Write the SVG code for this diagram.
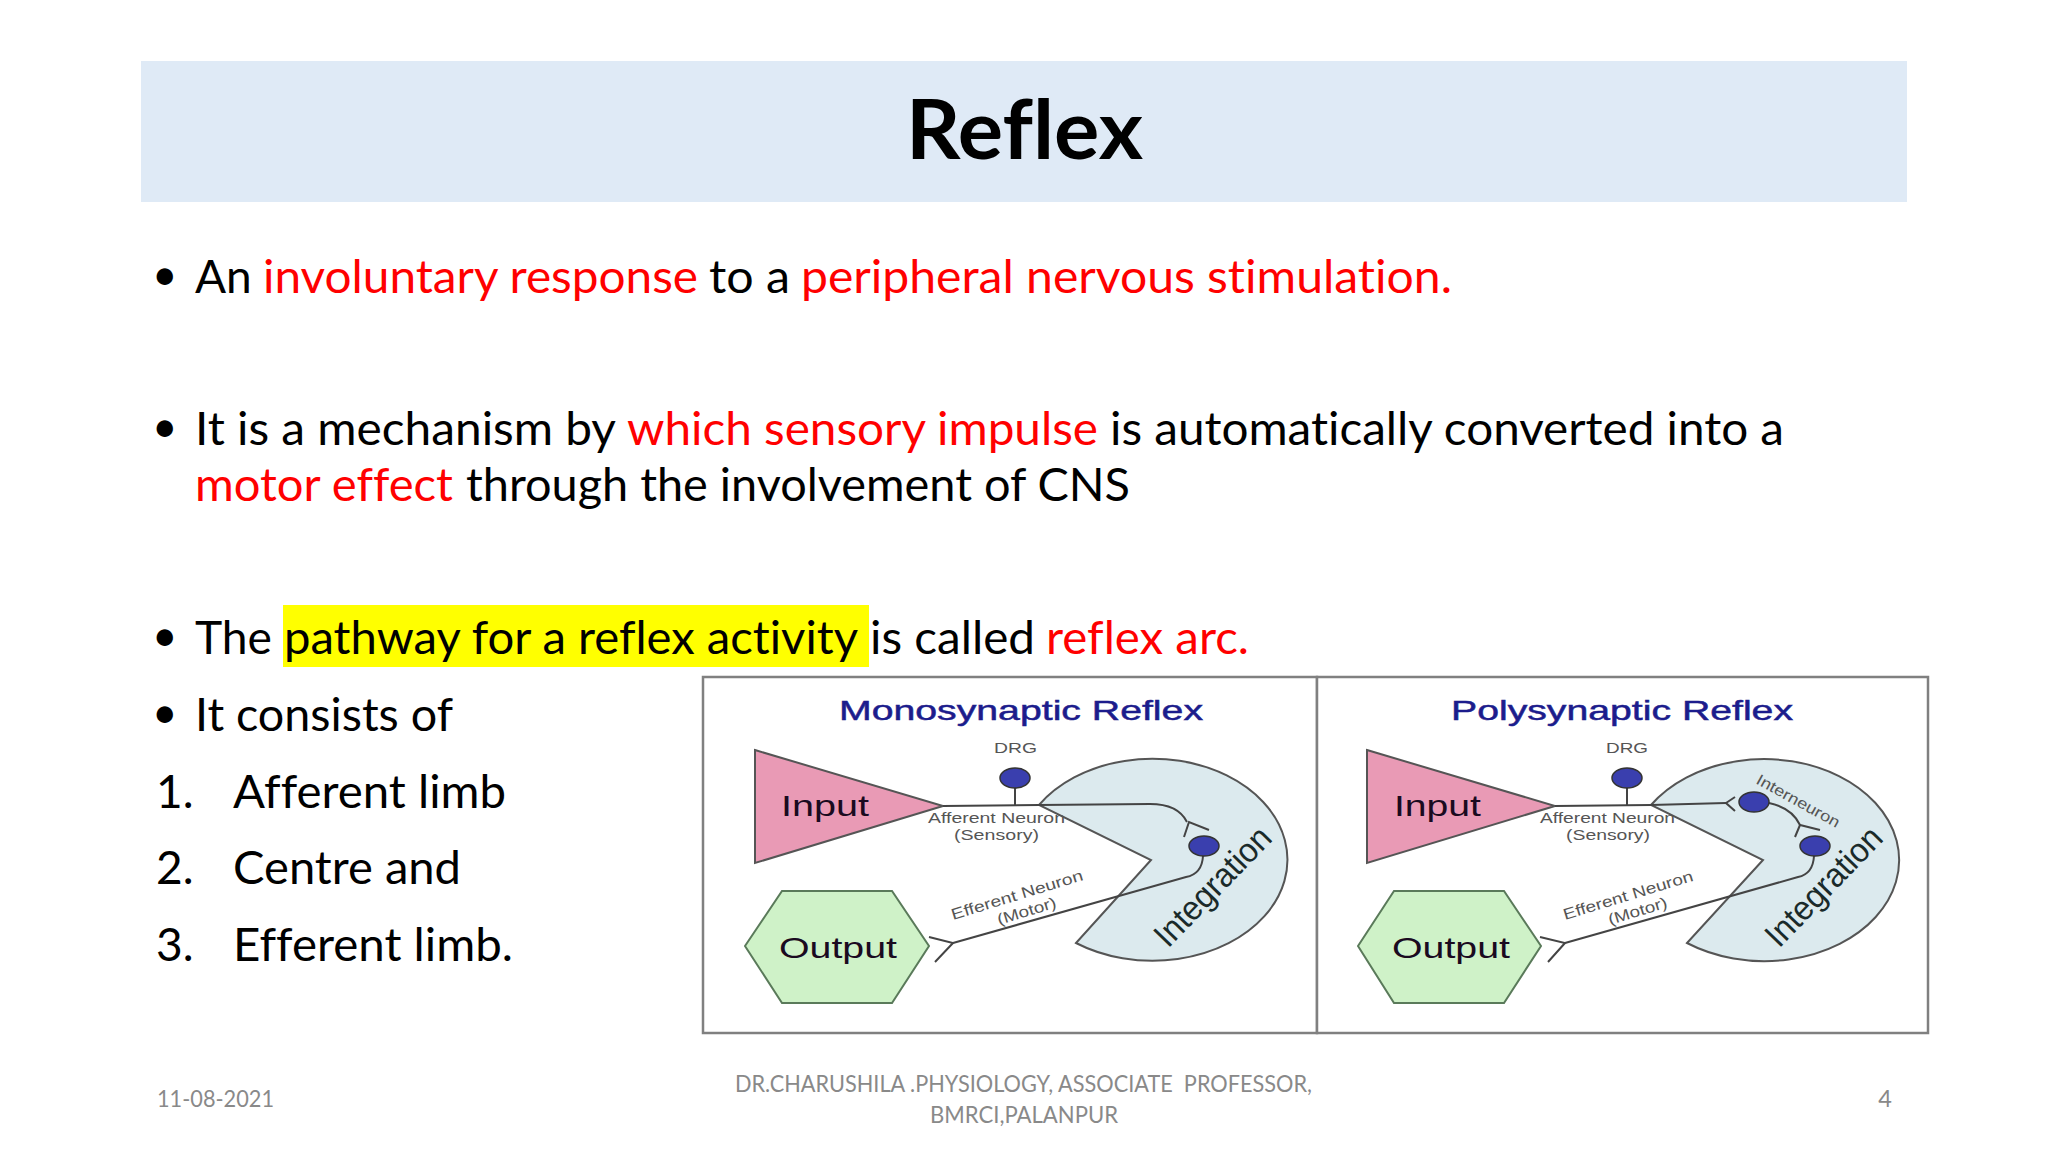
<svg xmlns="http://www.w3.org/2000/svg" width="2048" height="1152" viewBox="0 0 2048 1152">
<style>
text{font-variant-ligatures:none;white-space:pre}
.t{font-family:"Lato","Open Sans",sans-serif;font-size:46px;fill:#000}
.r{fill:#ff0000}
.b{font-family:"Lato","Open Sans",sans-serif;font-size:44px;fill:#000}
.f{font-family:"Lato","Open Sans",sans-serif;font-size:23.5px;fill:#898989}
.d{font-family:"Liberation Sans",Arial,sans-serif}
.big{font-size:30px;fill:#1a0a20}
.ttl{font-size:28px;fill:#1c1c8c;stroke:#1c1c8c;stroke-width:.5}
.sm{font-size:15.5px;fill:#555}
.int{font-size:34px;fill:#1a2a2a}
.ln{fill:none;stroke:#444;stroke-width:2}
.dot{fill:#3a3fae;stroke:#333;stroke-width:1.5}
.tri{fill:#e99ab5;stroke:#555;stroke-width:2}
.hex{fill:#cff2c8;stroke:#5a7a5a;stroke-width:2}
.pac{fill:#dceaee;stroke:#555;stroke-width:2}
</style>
<rect width="2048" height="1152" fill="#fff"/>
<g id="header"><rect x="141" y="61" width="1766" height="141" fill="#dfeaf6"/>
<text x="906" y="159" font-family="Lato,'Open Sans',sans-serif" font-weight="700" font-size="82" fill="#000" textLength="237" lengthAdjust="spacingAndGlyphs">Reflex</text></g>
<rect x="283" y="605" width="586" height="62" fill="#ffff00"/>
<g id="body">
<text class="b" x="152" y="290">•</text>
<text class="t" y="293"><tspan x="195">An</tspan><tspan x="263" class="r" textLength="435" lengthAdjust="spacingAndGlyphs">involuntary response</tspan><tspan x="709" textLength="81" lengthAdjust="spacingAndGlyphs">to a</tspan><tspan x="801" class="r" textLength="651" lengthAdjust="spacingAndGlyphs">peripheral nervous stimulation.</tspan></text>
<text class="b" x="152" y="442">•</text>
<text class="t" y="445"><tspan x="195" textLength="421" lengthAdjust="spacingAndGlyphs">It is a mechanism by</tspan><tspan x="627" class="r" textLength="471" lengthAdjust="spacingAndGlyphs">which sensory impulse</tspan><tspan x="1110" textLength="674" lengthAdjust="spacingAndGlyphs">is automatically converted into a</tspan></text>
<text class="t" y="501"><tspan x="195" class="r" textLength="258" lengthAdjust="spacingAndGlyphs">motor effect</tspan><tspan x="466" textLength="664" lengthAdjust="spacingAndGlyphs">through the involvement of CNS</tspan></text>
<text class="b" x="152" y="651">•</text>
<text class="t" y="654"><tspan x="195" textLength="77" lengthAdjust="spacingAndGlyphs">The</tspan><tspan x="284" textLength="574" lengthAdjust="spacingAndGlyphs">pathway for a reflex activity</tspan><tspan x="870" textLength="165" lengthAdjust="spacingAndGlyphs">is called</tspan><tspan x="1046" class="r" textLength="203" lengthAdjust="spacingAndGlyphs">reflex arc.</tspan></text>
<text class="b" x="152" y="728">•</text>
<text class="t" y="731"><tspan x="195" textLength="258" lengthAdjust="spacingAndGlyphs">It consists of</tspan></text>
<text class="t" y="808"><tspan x="156">1.</tspan><tspan x="233" textLength="273" lengthAdjust="spacingAndGlyphs">Afferent limb</tspan></text>
<text class="t" y="884"><tspan x="156">2.</tspan><tspan x="233" textLength="228" lengthAdjust="spacingAndGlyphs">Centre and</tspan></text>
<text class="t" y="961"><tspan x="156">3.</tspan><tspan x="233" textLength="280" lengthAdjust="spacingAndGlyphs">Efferent limb.</tspan></text>
</g>
<g id="frames" fill="#fff" stroke="#808080" stroke-width="2.5"><rect x="703" y="677" width="614" height="356"/><rect x="1317" y="677" width="611" height="356"/></g>
<g id="mono">
<text class="d ttl" x="839" y="720" textLength="364" lengthAdjust="spacingAndGlyphs">Monosynaptic Reflex</text>
<g id="m-integration"><path class="pac" d="M1039 805 A135 101 0 1 1 1076 943 L1151 860 Z"/><text class="d int" transform="translate(1168 949) rotate(-46)" textLength="152" lengthAdjust="spacingAndGlyphs">Integration</text></g>
<g id="m-input"><path class="tri" d="M755 750 L943 806 L755 863Z"/><text class="d big" x="781" y="816" textLength="88" lengthAdjust="spacingAndGlyphs">Input</text></g>
<g id="m-output"><path class="hex" d="M745 946 L782 891 L892 891 L929 946 L892 1003 L782 1003Z"/><text class="d big" x="779" y="958" textLength="118" lengthAdjust="spacingAndGlyphs">Output</text></g>
<g id="m-connectors">
<path class="ln" d="M943 806 L1039 805 L1150 804 Q1178 804 1187 822"/>
<path class="ln" d="M1184 837 L1189 822 L1209 830"/>
<path class="ln" d="M1015 788 V806"/>
<path class="ln" d="M1203 856 Q1202 874 1186 877 L953 943"/>
<path class="ln" d="M929 937 L953 943 L935 962"/>
</g>
<g id="m-drg"><ellipse class="dot" cx="1015" cy="778" rx="15" ry="10"/></g>
<g id="m-interneuron"><ellipse class="dot" cx="1204" cy="846" rx="15" ry="10"/></g>
<g class="d sm"><text x="994" y="753" textLength="43" lengthAdjust="spacingAndGlyphs">DRG</text>
<text x="928" y="823" textLength="137" lengthAdjust="spacingAndGlyphs">Afferent Neuron</text>
<text x="954" y="840" textLength="85" lengthAdjust="spacingAndGlyphs">(Sensory)</text>
<text x="953" y="920" transform="rotate(-17 953 920)" textLength="137" lengthAdjust="spacingAndGlyphs">Efferent Neuron</text>
<text x="999" y="925" transform="rotate(-17 999 925)" textLength="61" lengthAdjust="spacingAndGlyphs">(Motor)</text></g>
</g>
<g id="poly">
<text class="d ttl" x="1451" y="720" textLength="342" lengthAdjust="spacingAndGlyphs">Polysynaptic Reflex</text>
<g id="p-integration"><path class="pac" d="M1651 805 A135 101 0 1 1 1687 943 L1763 860 Z"/><text class="d int" transform="translate(1779 949) rotate(-46)" textLength="152" lengthAdjust="spacingAndGlyphs">Integration</text></g>
<g id="p-input"><path class="tri" d="M1367 750 L1555 806 L1367 863Z"/><text class="d big" x="1394" y="816" textLength="87" lengthAdjust="spacingAndGlyphs">Input</text></g>
<g id="p-output"><path class="hex" d="M1358 946 L1394 891 L1504 891 L1541 946 L1504 1003 L1394 1003Z"/><text class="d big" x="1392" y="958" textLength="118" lengthAdjust="spacingAndGlyphs">Output</text></g>
<g id="p-connectors">
<path class="ln" d="M1555 806 L1651 805 L1726 803"/>
<path class="ln" d="M1735 797 L1726 803 L1735 811"/>
<path class="ln" d="M1627 788 V806"/>
<path class="ln" d="M1769 803 Q1792 808 1800 825"/>
<path class="ln" d="M1795 837 L1800 825 L1820 830"/>
<path class="ln" d="M1814 856 Q1813 874 1798 877 L1565 943"/>
<path class="ln" d="M1540 937 L1565 943 L1548 962"/>
</g>
<g id="p-drg"><ellipse class="dot" cx="1627" cy="778" rx="15" ry="10"/></g>
<g id="p-inter1"><ellipse class="dot" cx="1754" cy="802" rx="15" ry="10"/></g>
<g id="p-inter2"><ellipse class="dot" cx="1815" cy="846" rx="15" ry="10"/></g>
<g class="d sm"><text x="1606" y="753" textLength="42" lengthAdjust="spacingAndGlyphs">DRG</text>
<text x="1540" y="823" textLength="135" lengthAdjust="spacingAndGlyphs">Afferent Neuron</text>
<text x="1566" y="840" textLength="84" lengthAdjust="spacingAndGlyphs">(Sensory)</text>
<text x="1565" y="920" transform="rotate(-17 1565 920)" textLength="135" lengthAdjust="spacingAndGlyphs">Efferent Neuron</text>
<text x="1610" y="925" transform="rotate(-17 1610 925)" textLength="61" lengthAdjust="spacingAndGlyphs">(Motor)</text>
<text x="1755" y="783" transform="rotate(29 1755 783)" textLength="93" lengthAdjust="spacingAndGlyphs">Interneuron</text></g>
</g>
<g id="footer"><text class="f" x="157" y="1107" textLength="117" lengthAdjust="spacingAndGlyphs">11-08-2021</text>
<text class="f" x="735" y="1092" textLength="577" lengthAdjust="spacingAndGlyphs">DR.CHARUSHILA .PHYSIOLOGY, ASSOCIATE  PROFESSOR,</text>
<text class="f" x="930" y="1123" textLength="188" lengthAdjust="spacingAndGlyphs">BMRCI,PALANPUR</text>
<text class="f" x="1885" y="1107" text-anchor="middle">4</text></g>
</svg>
